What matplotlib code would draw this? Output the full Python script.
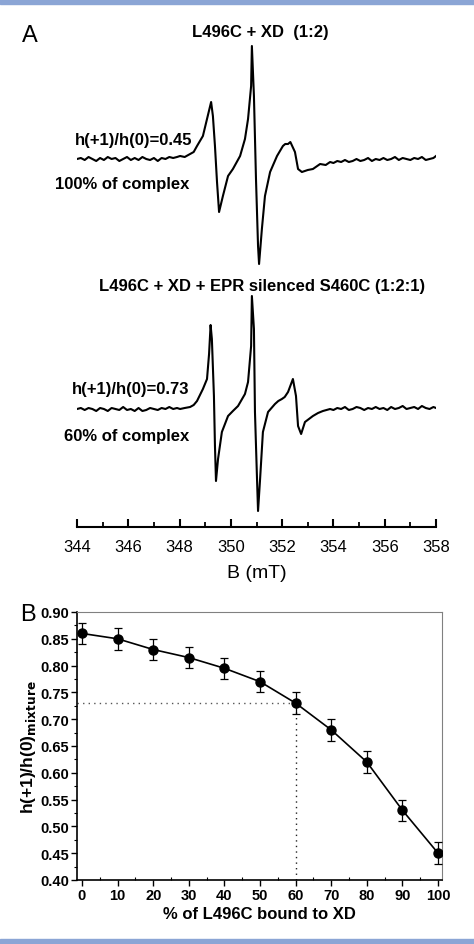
import matplotlib
matplotlib.use("Agg")
import matplotlib.pyplot as plt
from matplotlib.ticker import MultipleLocator, FormatStrFormatter
from matplotlib.patches import Rectangle

plt.rcParams['font.family'] = ['Liberation Sans', 'DejaVu Sans']

# ---------------- Panel A data (EPR spectra) ----------------
# magnetic field (mT) and derivative signal (a.u., relative to baseline)
field_top = [344.0, 344.15, 344.3, 344.45, 344.6, 344.75, 344.9, 345.05, 345.2, 345.35,
             345.5, 345.65, 345.8, 345.95, 346.1, 346.25, 346.4, 346.55, 346.7, 346.85,
             347.0, 347.15, 347.3, 347.45, 347.6, 347.75, 347.9,
             348.02, 348.2, 348.41, 348.55, 348.68, 348.91, 349.07, 349.23, 349.30, 349.38,
             349.46, 349.54, 349.69, 349.89, 350.08, 350.36, 350.55, 350.67, 350.79, 350.82,
             350.90, 350.98, 351.06, 351.10, 351.21, 351.33, 351.53, 351.80, 352.03, 352.12,
             352.23, 352.32, 352.50, 352.62, 352.77, 353.0, 353.20, 353.48, 353.7, 353.87,
             354.0, 354.15, 354.3, 354.45, 354.6, 354.75, 354.9, 355.05, 355.2, 355.35,
             355.5, 355.65, 355.8, 355.95, 356.1, 356.25, 356.4, 356.55, 356.7, 356.85,
             357.0, 357.15, 357.3, 357.45, 357.6, 357.75, 357.9, 358.0]
signal_top = [0, 1, -1, 2, 0, -2, 1, -1, 2, 0,
              1, -2, 0, 2, -1, 1, -1, 2, 0, -1,
              1, -2, 1, 0, 2, 1, 2,
              3, 2, 5, 7, 13, 23, 40, 57, 43, 13,
              -23, -53, -37, -17, -10, 3, 20, 40, 73, 113,
              63, -20, -87, -105, -70, -37, -13, 3, 13, 15,
              15, 17, 7, -10, -13, -11, -10, -5, -6, -3,
              -4, -2, -3, -1, -3, -2, 0, -2, -1, 1,
              -2, 0, -1, 1, -1, 0, 2, -1, 1, 0,
              -1, 1, 0, 2, -1, 0, 1, 3]

field_bot = [344.0, 344.15, 344.3, 344.45, 344.6, 344.75, 344.9, 345.05, 345.2, 345.35,
             345.5, 345.65, 345.8, 345.95, 346.1, 346.25, 346.4, 346.55, 346.7, 346.85,
             347.0, 347.15, 347.3, 347.45, 347.6, 347.75, 347.9,
             348.02, 348.2, 348.41, 348.55, 348.68, 348.91, 349.07, 349.15, 349.21, 349.26,
             349.34, 349.38, 349.42, 349.50, 349.65, 349.89, 350.08, 350.28, 350.55, 350.67,
             350.79, 350.82, 350.90, 350.94, 351.02, 351.06, 351.14, 351.25, 351.45, 351.72,
             351.85, 351.99, 352.10, 352.23, 352.42, 352.54, 352.62, 352.74, 352.89, 353.20,
             353.40, 353.59, 353.87,
             354.0, 354.15, 354.3, 354.45, 354.6, 354.75, 354.9, 355.05, 355.2, 355.35,
             355.5, 355.65, 355.8, 355.95, 356.1, 356.25, 356.4, 356.55, 356.7, 356.85,
             357.0, 357.15, 357.3, 357.45, 357.6, 357.75, 357.9, 358.0]
signal_bot = [0, 1, -1, 1, 0, -2, 1, 0, -2, 1,
              0, -1, 2, -1, 0, -2, 1, -2, -1, 1,
              0, -1, 1, 0, 2, 0, 1,
              0, 1, 2, 4, 8, 20, 30, 55, 84, 70,
              13, -37, -72, -50, -23, -7, -2, 3, 15, 27,
              63, 113, 80, -3, -70, -102, -70, -23, -3, 5,
              8, 10, 12, 17, 30, 13, -17, -25, -13, -7,
              -4, -2, 0,
              -1, 1, 0, 2, -1, 0, 2, 1, -1, 1,
              0, 2, 0, 1, -1, 2, 0, 1, 3, 0,
              1, 2, 0, 3, 1, 0, 2, 1]

top_offset = 250  # vertical shift of the upper spectrum

# ---------------- Panel B data ----------------
percent_bound = [0, 10, 20, 30, 40, 50, 60, 70, 80, 90, 100]
ratio_mixture = [0.86, 0.85, 0.83, 0.815, 0.795, 0.77, 0.73, 0.68, 0.62, 0.53, 0.45]
ratio_err = [0.02, 0.02, 0.02, 0.02, 0.02, 0.02, 0.02, 0.02, 0.02, 0.02, 0.02]
marker_x = 60
marker_y = 0.73

W, H = 474, 945
fig = plt.figure(figsize=(W / 100, H / 100), dpi=100)

def fx(px):
    return px / W

def fy(py):
    return 1 - py / H

# blue bars at top and bottom
fig.patches.append(Rectangle((0, fy(5)), 1, 5 / H, transform=fig.transFigure,
                             color='#8ba5d5', zorder=0))
fig.patches.append(Rectangle((0, 0), 1, 5 / H, transform=fig.transFigure,
                             color='#8ba5d5', zorder=0))

# ---------------- Panel A ----------------
axA = fig.add_axes([fx(77), fy(528), (436 - 77) / W, (528 - 20) / H])
axA.plot(field_top, [s + top_offset for s in signal_top], color='black', lw=1.5,
         solid_joinstyle='round')
axA.plot(field_bot, signal_bot, color='black', lw=1.5, solid_joinstyle='round')
axA.set_xlim(344, 358)
axA.set_ylim(-118, 390)
for s in ['top', 'right', 'left']:
    axA.spines[s].set_visible(False)
axA.spines['bottom'].set_linewidth(1.5)
axA.set_yticks([])
axA.xaxis.set_major_locator(MultipleLocator(2))
axA.xaxis.set_minor_locator(MultipleLocator(1))
axA.tick_params(axis='x', which='major', direction='in', length=6, width=1.5,
                labelsize=12, pad=9)
axA.tick_params(axis='x', which='minor', direction='in', length=3.5, width=1.3)
axA.set_xlabel('B (mT)', fontsize=14, labelpad=7)

fig.text(fx(22), fy(36), 'A', fontsize=17, ha='left', va='center')
fig.text(fx(260), fy(33), 'L496C + XD  (1:2)', fontsize=12, fontweight='bold',
         ha='center', va='center')
fig.text(fx(192), fy(140), 'h(+1)/h(0)=0.45', fontsize=12, fontweight='bold',
         ha='right', va='center')
fig.text(fx(189), fy(185), '100% of complex', fontsize=12, fontweight='bold',
         ha='right', va='center')
fig.text(fx(262), fy(287), 'L496C + XD + EPR silenced S460C (1:2:1)', fontsize=12,
         fontweight='bold', ha='center', va='center')
fig.text(fx(189), fy(390), 'h(+1)/h(0)=0.73', fontsize=12, fontweight='bold',
         ha='right', va='center')
fig.text(fx(189), fy(437), '60% of complex', fontsize=12, fontweight='bold',
         ha='right', va='center')

# ---------------- Panel B ----------------
axB = fig.add_axes([fx(77), fy(881), (442 - 77) / W, (881 - 613) / H])
axB.set_xlim(-1.4, 101.1)
axB.set_ylim(0.40, 0.90)
axB.plot([axB.get_xlim()[0], marker_x], [marker_y, marker_y], color='#555555',
         lw=1, ls=(0, (1, 3)))
axB.plot([marker_x, marker_x], [0.40, marker_y], color='#222222', lw=1, ls=(0, (1, 3)))
axB.plot(percent_bound, ratio_mixture, color='black', lw=1.2, zorder=3)
axB.errorbar(percent_bound, ratio_mixture, yerr=ratio_err, fmt='o', color='black',
             ms=6.5, elinewidth=0.9, capsize=3, capthick=0.9, zorder=4)
axB.spines['left'].set_linewidth(1.2)
axB.spines['bottom'].set_linewidth(1.2)
axB.spines['top'].set_color('#808080')
axB.spines['right'].set_color('#808080')
axB.xaxis.set_major_locator(MultipleLocator(10))
axB.xaxis.set_minor_locator(MultipleLocator(5))
axB.yaxis.set_major_locator(MultipleLocator(0.05))
axB.yaxis.set_minor_locator(MultipleLocator(0.025))
axB.yaxis.set_major_formatter(FormatStrFormatter('%.2f'))
axB.tick_params(which='major', direction='out', length=4, width=1, labelsize=10.5, pad=1.5)
axB.tick_params(which='minor', direction='out', length=2.5, width=0.8)
axB.tick_params(axis='x', which='minor', direction='in', length=2.5)
for lab in axB.get_xticklabels() + axB.get_yticklabels():
    lab.set_fontweight('bold')
axB.set_xlabel('% of L496C bound to XD', fontsize=12, fontweight='bold', labelpad=3)
axB.set_ylabel(r'h(+1)/h(0)$_{\mathbf{mixture}}$', fontsize=12.5, fontweight='bold',
               labelpad=2)
fig.text(fx(20), fy(615), 'B', fontsize=17, ha='left', va='center')

fig.savefig('out.png', dpi=100)
